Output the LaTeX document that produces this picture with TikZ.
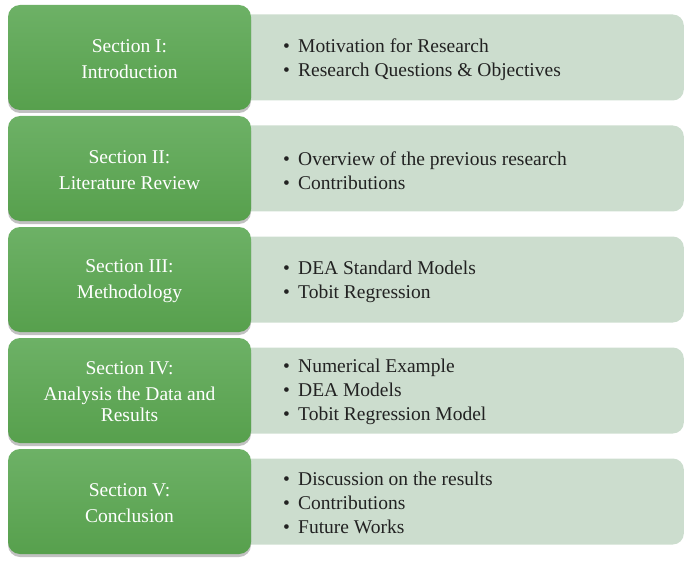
\documentclass[tikz,border=0pt]{standalone}
\usepackage{fontspec}
\setmainfont{Liberation Serif}
\usetikzlibrary{shadows}
\definecolor{gtop}{HTML}{6DB166}
\definecolor{gbot}{HTML}{57A04D}
\definecolor{barfill}{HTML}{CCDDCE}
\definecolor{bartext}{HTML}{222222}
\tikzset{
  secbox/.style={rounded corners=12pt, top color=gtop, bottom color=gbot,
    draw=none, minimum width=243pt, minimum height=105pt, inner sep=0pt,
    drop shadow={shadow xshift=0pt, shadow yshift=-3pt, opacity=0.35, fill=black!70}},
  sectext/.style={text=white, align=center, inner sep=0pt,
    font=\fontsize{19.5}{21}\selectfont},
  barbox/.style={rounded corners=11pt, fill=barfill, draw=none,
    minimum width=450pt, minimum height=86pt, inner sep=0pt},
  bultext/.style={text=bartext, align=left, anchor=west, inner sep=0pt,
    font=\fontsize{19.5}{24}\selectfont},
}
\newcommand{\bul}[1]{\makebox[15pt][l]{\textbullet}#1}
\begin{document}
\begin{tikzpicture}[x=1pt,y=-1pt]
\useasboundingbox (0,0) rectangle (685,564);
\foreach \i/\yc in {1/57.5,2/168.5,3/279.5,4/390.5,5/501.5}{
  \node[barbox, anchor=east] (bar\i) at (684,\yc) {};
  \node[secbox] (s\i) at (129.5,\yc) {};
}
\node[sectext] (l1) at ([yshift=-2pt]s1.center) {Section I:\\[5pt]Introduction};
\node[sectext] (l2) at ([yshift=-2pt]s2.center) {Section II:\\[5pt]Literature Review};
\node[sectext] (l3) at ([yshift=-2pt]s3.center) {Section III:\\[5pt]Methodology};
\node[sectext] (l4) at ([yshift=-1pt]s4.center) {Section IV:\\[5pt]Analysis the Data and\\Results};
\node[sectext] (l5) at ([yshift=-2pt]s5.center) {Section V:\\[5pt]Conclusion};
\node[bultext] (t1) at (283,59.5) {\bul{Motivation for Research}\\\bul{Research Questions \& Objectives}};
\node[bultext] (t2) at (283,170.5) {\bul{Overview of the previous research}\\\bul{Contributions}};
\node[bultext] (t3) at (283,281.5) {\bul{DEA Standard Models}\\\bul{Tobit Regression}};
\node[bultext] (t4) at (283,392) {\bul{Numerical Example}\\\bul{DEA Models}\\\bul{Tobit Regression Model}};
\node[bultext] (t5) at (283,503) {\bul{Discussion on the results}\\\bul{Contributions}\\\bul{Future Works}};
\end{tikzpicture}
\end{document}
